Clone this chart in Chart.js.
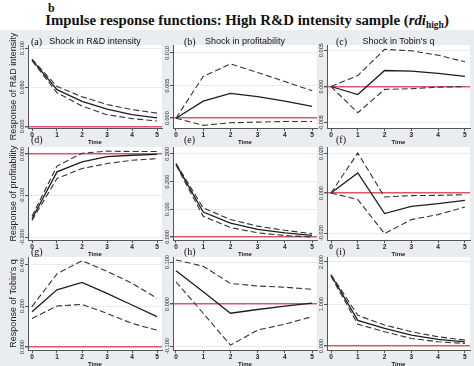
<!DOCTYPE html>
<html>
<head>
<meta charset="utf-8">
<script src="https://cdn.jsdelivr.net/npm/chart.js@4.4.1/dist/chart.umd.min.js"></script>
<style>
  body { margin: 0; background: #fff; }
  #page { position: relative; width: 474px; height: 366px; overflow: hidden; font-family: "Liberation Sans", Arial, sans-serif; color: #222; }
  #band { position: absolute; left: 0; top: 30px; width: 474px; height: 336px; background: #e9edef; }
  .lbl { position: absolute; white-space: nowrap; transform: translateY(-50%); }
  .ctr { transform: translate(-50%, -50%); }
  canvas { position: absolute; }
</style>
</head>
<body>
<div id="page">
  <div id="band"></div>
  <div class="lbl" style="left:48px;top:8px;font:bold 12px 'Liberation Serif',serif;color:#111">b</div>
  <div class="lbl ctr" style="left:247px;top:22px;font:bold 14.8px 'Liberation Serif',serif;color:#111;line-height:16px">Impulse response functions: High R&amp;D intensity sample (<i>rdi</i><sub style="font-size:9.5px;vertical-align:-3px">high</sub>)</div>
</div>
<script>
"use strict";
// horizon
const steps = [0, 1, 2, 3, 4, 5];

// (a) R&D intensity -> R&D intensity
const aMid = [0.085, 0.047, 0.032, 0.022, 0.015, 0.011];
const aUp = [0.086, 0.051, 0.038, 0.028, 0.0215, 0.017];
const aLo = [0.084, 0.043, 0.026, 0.015, 0.010, 0.007];
// (b) profitability -> R&D intensity
const bMid = [0, 0.0026, 0.0038, 0.0033, 0.0026, 0.0018];
const bUp = [0, 0.0064, 0.0083, 0.0070, 0.0056, 0.0042];
const bLo = [0, -0.0011, -0.0007, -0.0006, -0.0005, -0.0005];
// (c) Tobin's q -> R&D intensity
const cMid = [0, -0.0011, 0.0022, 0.0021, 0.0018, 0.0014];
const cUp = [0, 0.0015, 0.0051, 0.0049, 0.0043, 0.0034];
const cLo = [0, -0.0036, -0.0004, -0.0003, -0.0001, 0.0000];
// (d) R&D intensity -> profitability
const dMid = [-0.156, -0.043, -0.019, -0.0065, -0.003, -0.001];
const dUp = [-0.150, -0.029, 0.002, 0.007, 0.006, 0.006];
const dLo = [-0.160, -0.059, -0.035, -0.023, -0.015, -0.011];
// (e) profitability -> profitability
const eMid = [0.263, 0.090, 0.050, 0.027, 0.015, 0.006];
const eUp = [0.266, 0.105, 0.063, 0.039, 0.024, 0.012];
const eLo = [0.260, 0.075, 0.034, 0.015, 0.005, 0.000];
// (f) Tobin's q -> profitability
const fMid = [0, 0.010, -0.0103, -0.0067, -0.0053, -0.0037];
const fUp = [0, 0.020, -0.002, -0.0013, -0.0012, -0.0008];
const fLo = [0, -0.0033, -0.0203, -0.0133, -0.0108, -0.007];
// (g) R&D intensity -> Tobin's q
const gMid = [0.172, 0.279, 0.315, 0.262, 0.205, 0.148];
const gUp = [0.197, 0.357, 0.421, 0.369, 0.311, 0.238];
const gLo = [0.139, 0.200, 0.208, 0.164, 0.115, 0.082];
// (h) profitability -> Tobin's q
const hMid = [0.079, 0.029, -0.022, -0.013, -0.005, 0.002];
const hUp = [0.105, 0.090, 0.049, 0.043, 0.040, 0.035];
const hLo = [0.053, -0.022, -0.098, -0.062, -0.048, -0.030];
// (i) Tobin's q -> Tobin's q
const iMid = [1.69, 0.61, 0.42, 0.26, 0.16, 0.10];
const iUp = [1.70, 0.73, 0.50, 0.34, 0.22, 0.14];
const iLo = [1.66, 0.52, 0.34, 0.18, 0.10, 0.06];

// tick labels
const aTicks = [0, 0.05, 0.1];
const bTicks = [0, 0.005, 0.01];
const cTicks = [-0.005, 0, 0.005];
const dTicks = [-0.2, -0.1, 0];
const eTicks = [0, 0.1, 0.2, 0.3];
const fTicks = [-0.02, 0, 0.02];
const gTicks = [0, 0.2, 0.4];
const hTicks = [-0.1, 0, 0.1];
const iTicks = [0, 1, 2];

const shocks = ["Shock in R&D intensity", "Shock in profitability", "Shock in Tobin's q"];
const responses = ["Response of R&D intensity", "Response of profitability", "Response of Tobin's q"];

// layout of the plot regions
const cols = [{ l: 28, r: 162, xmin: -0.16, xmax: 5.2 }, { l: 173, r: 317, xmin: -0.11, xmax: 5.18 }, { l: 327, r: 470, xmin: -0.15, xmax: 5.19 }];
const rows = [{ t: 45, b: 128, lab: 41 }, { t: 147, b: 240, lab: 139 }, { t: 257, b: 350, lab: 251 }];
const letterX = [31, 184, 336];

const panels = [
  { id: "a", row: 0, col: 0, mid: aMid, up: aUp, lo: aLo, ticks: aTicks, min: -0.002, max: 0.104 },
  { id: "b", row: 0, col: 1, mid: bMid, up: bUp, lo: bLo, ticks: bTicks, min: -0.0015, max: 0.0112 },
  { id: "c", row: 0, col: 2, mid: cMid, up: cUp, lo: cLo, ticks: cTicks, min: -0.0057, max: 0.0057 },
  { id: "d", row: 1, col: 0, mid: dMid, up: dUp, lo: dLo, ticks: dTicks, min: -0.207, max: 0.0169 },
  { id: "e", row: 1, col: 1, mid: eMid, up: eUp, lo: eLo, ticks: eTicks, min: -0.011, max: 0.325 },
  { id: "f", row: 1, col: 2, mid: fMid, up: fUp, lo: fLo, ticks: fTicks, min: -0.0235, max: 0.023 },
  { id: "g", row: 2, col: 0, mid: gMid, up: gUp, lo: gLo, ticks: gTicks, min: -0.0146, max: 0.439 },
  { id: "h", row: 2, col: 1, mid: hMid, up: hUp, lo: hLo, ticks: hTicks, min: -0.1095, max: 0.112 },
  { id: "i", row: 2, col: 2, mid: iMid, up: iUp, lo: iLo, ticks: iTicks, min: -0.095, max: 2.119 },
];

const page = document.getElementById("page");
const meas = document.createElement("canvas").getContext("2d");
const tickFont = { family: "'Liberation Sans', Arial, sans-serif", size: 5.5 };
const red = "#d65a6c";

const whiteArea = {
  id: "whiteArea",
  beforeDraw(c) {
    const a = c.chartArea;
    c.ctx.save();
    c.ctx.fillStyle = "#fff";
    c.ctx.fillRect(a.left, a.top, a.right - a.left, a.bottom - a.top);
    c.ctx.restore();
  },
};

const addLabel = (text, x, y, font, center) => {
  const d = document.createElement("div");
  d.className = center ? "lbl ctr" : "lbl";
  d.style.left = x + "px";
  d.style.top = y + "px";
  d.style.font = font;
  d.style.color = "#111";
  d.textContent = text;
  page.appendChild(d);
};

const line = (vals, dashed) => ({
  data: steps.map((x, i) => ({ x: x, y: vals[i] })),
  borderColor: dashed ? "#333" : "#1e1e1e",
  borderWidth: dashed ? 1.1 : 1.3,
  borderDash: dashed ? [6, 3] : [],
});

panels.forEach((p) => {
  const col = cols[p.col];
  const row = rows[p.row];
  const yw = p.col === 0 ? 28 : 14;
  const padTop = 14;
  const xh = 18;
  const cv = document.createElement("canvas");
  cv.width = yw + (col.r - col.l) + 3;
  cv.height = padTop + (row.b - row.t) + xh;
  cv.style.left = (col.l - yw) + "px";
  cv.style.top = (row.t - padTop) + "px";
  page.appendChild(cv);

  const labels = p.ticks.map((v) => v.toFixed(3));
  meas.font = tickFont.size + "px " + tickFont.family;
  const widest = Math.max(...labels.map((s) => meas.measureText(s).width));

  // panel letter and shock name
  addLabel("(" + p.id + ")", letterX[p.col], row.lab, "10px 'Liberation Serif', serif", false);
  if (p.row === 0) {
    addLabel(shocks[p.col], (col.l + col.r) / 2, row.lab, "9px 'Liberation Sans', Arial, sans-serif", true);
  }

  new Chart(cv, {
    type: "line",
    data: { datasets: [line(p.up, true), line(p.lo, true), line(p.mid, false)] },
    options: {
      responsive: false,
      animation: false,
      devicePixelRatio: 1,
      layout: { padding: { top: padTop, right: 3, left: 0, bottom: 0 } },
      plugins: { legend: { display: false }, tooltip: { enabled: false } },
      elements: { point: { radius: 0 }, line: { tension: 0, fill: false } },
      scales: {
        x: {
          type: "linear",
          min: col.xmin,
          max: col.xmax,
          afterBuildTicks: (s) => { s.ticks = steps.map((v) => ({ value: v })); },
          afterFit: (s) => { s.height = xh; },
          grid: { drawOnChartArea: false, tickLength: 3, tickColor: "#555" },
          border: { color: "#555" },
          ticks: { font: { family: tickFont.family, size: 6.5, weight: "bold" }, color: "#222", padding: 0, maxRotation: 0, callback: (v) => String(v) },
          title: { display: true, text: "Time", font: { family: tickFont.family, size: 6, weight: "bold" }, color: "#222", padding: 0 },
        },
        y: {
          min: p.min,
          max: p.max,
          afterBuildTicks: (s) => { s.ticks = p.ticks.map((v) => ({ value: v })); },
          afterFit: (s) => { s.width = yw; },
          grid: {
            color: (c) => (c.tick && Math.abs(c.tick.value) < 1e-12 ? red : "#e6ebed"),
            lineWidth: (c) => (c.tick && Math.abs(c.tick.value) < 1e-12 ? 1.4 : 1),
            tickLength: 3,
            tickColor: "#555",
          },
          border: { color: "#555" },
          ticks: {
            minRotation: 90,
            maxRotation: 90,
            crossAlign: "center",
            padding: 5.5 - 3 - widest / 2,
            font: tickFont,
            color: "#222",
            callback: (v) => Number(v).toFixed(3),
          },
          title: {
            display: p.col === 0,
            text: responses[p.row],
            font: { family: tickFont.family, size: 9 },
            color: "#222",
            padding: { top: 8, bottom: 0 },
          },
        },
      },
    },
    plugins: [whiteArea],
  });
});
</script>
</body>
</html>
